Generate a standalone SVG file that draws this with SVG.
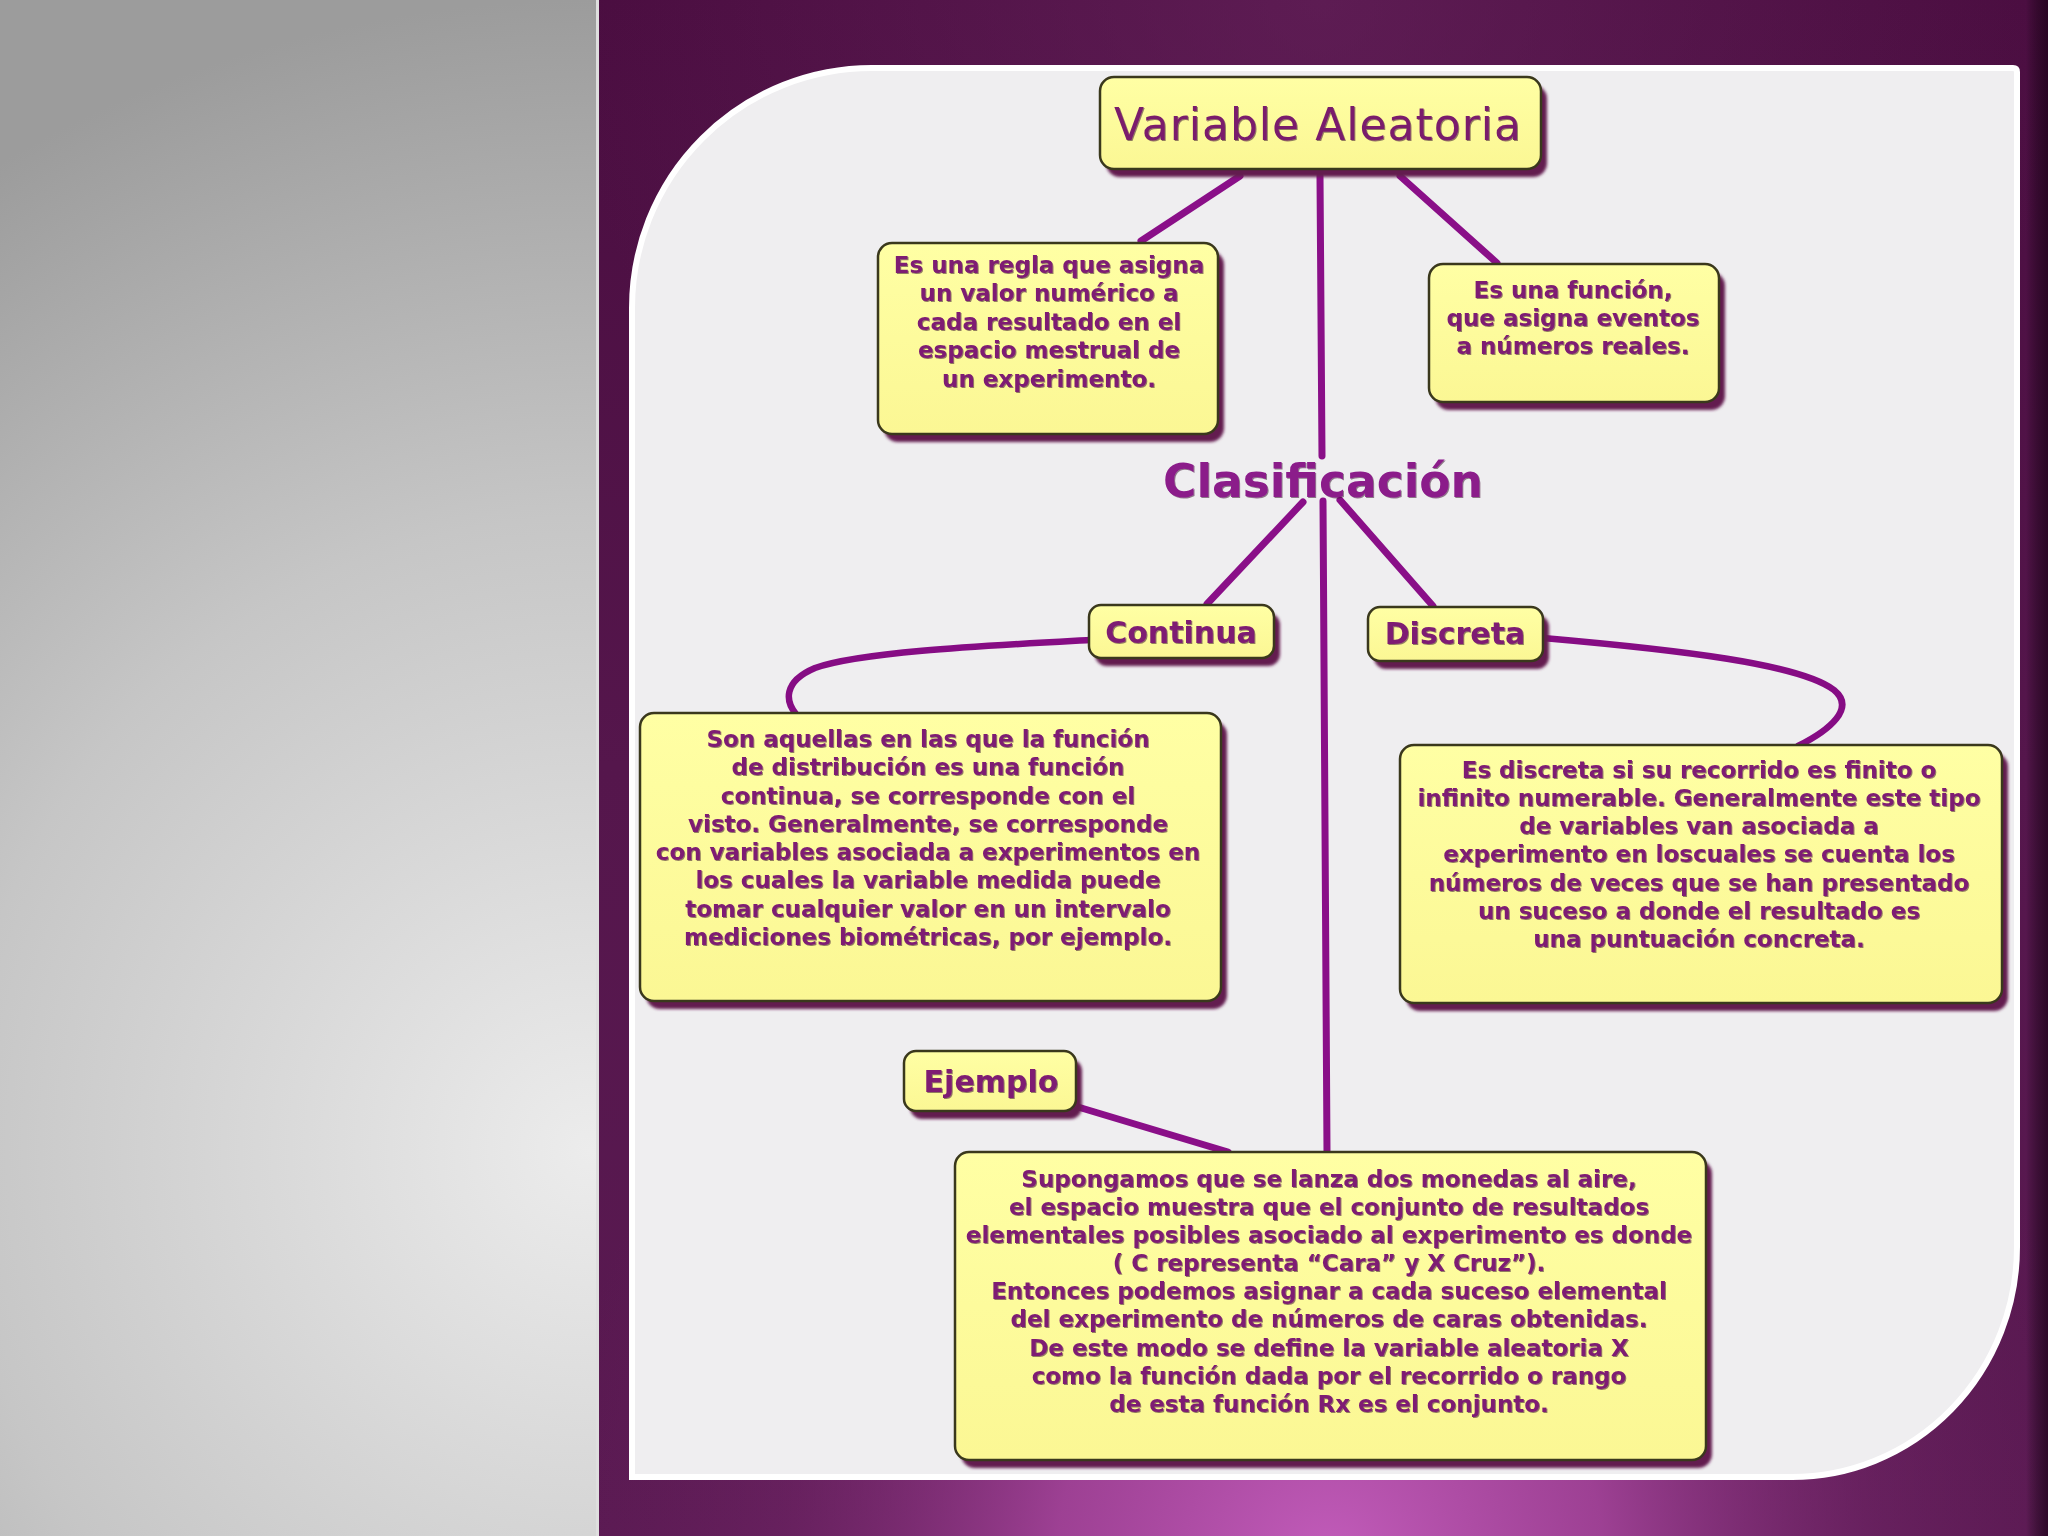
<svg xmlns="http://www.w3.org/2000/svg" width="2048" height="1536" viewBox="0 0 2048 1536">
<defs>
<radialGradient id="grayBg" gradientUnits="userSpaceOnUse" cx="590" cy="1150" r="1150">
<stop offset="0" stop-color="#ececec"/>
<stop offset="0.55" stop-color="#c6c6c6"/>
<stop offset="1" stop-color="#9c9c9c"/>
</radialGradient>
<linearGradient id="purpleBase" x1="0" y1="0" x2="0" y2="1">
<stop offset="0" stop-color="#4a0d40"/>
<stop offset="0.5" stop-color="#55164c"/>
<stop offset="1" stop-color="#5a1a52"/>
</linearGradient>
<radialGradient id="topGlow" gradientUnits="userSpaceOnUse" cx="1320" cy="0" r="750">
<stop offset="0" stop-color="#6a2660" stop-opacity="0.6"/>
<stop offset="1" stop-color="#6a2660" stop-opacity="0"/>
</radialGradient>
<radialGradient id="glow" gradientUnits="userSpaceOnUse" cx="1330" cy="1560" r="780">
<stop offset="0" stop-color="#c25cba" stop-opacity="1"/>
<stop offset="0.35" stop-color="#a9479f" stop-opacity="0.85"/>
<stop offset="0.7" stop-color="#7a2a70" stop-opacity="0.4"/>
<stop offset="1" stop-color="#6a2060" stop-opacity="0"/>
</radialGradient>
<linearGradient id="rightEdge" x1="0" y1="0" x2="1" y2="0">
<stop offset="0" stop-color="#000" stop-opacity="0"/>
<stop offset="1" stop-color="#1a0016" stop-opacity="0.7"/>
</linearGradient>
<linearGradient id="yel" x1="0" y1="0" x2="0" y2="1">
<stop offset="0" stop-color="#ffffa4"/>
<stop offset="1" stop-color="#fbf794"/>
</linearGradient>
<filter id="soft" x="-10%" y="-10%" width="130%" height="130%">
<feGaussianBlur stdDeviation="1.5"/>
</filter>
<filter id="tsh" x="-5%" y="-20%" width="110%" height="150%">
<feDropShadow dx="1" dy="1" stdDeviation="0.6" flood-color="#3a0833" flood-opacity="0.55"/>
</filter>
</defs>
<style>
.box{fill:url(#yel);stroke:#3a381c;stroke-width:2.5}
.shadow{fill:#641a50;filter:url(#soft)}
.conn{fill:none;stroke:#8a0f88;stroke-width:7;stroke-linecap:round}
.curve{fill:none;stroke:#860c84;stroke-width:6.5;stroke-linecap:round}
.t{font-family:"DejaVu Sans","Verdana",sans-serif;font-weight:bold;font-size:23px;fill:#7e1b73;text-anchor:middle;filter:url(#tsh)}
.tl{font-family:"DejaVu Sans","Verdana",sans-serif;font-weight:bold;font-size:30px;fill:#7e1b73;text-anchor:middle;filter:url(#tsh)}
.title{font-family:"DejaVu Sans","Verdana",sans-serif;font-weight:normal;font-size:44px;letter-spacing:1px;fill:#7a1d6c;text-anchor:middle;filter:url(#tsh)}
.clas{font-family:"DejaVu Sans","Verdana",sans-serif;font-weight:bold;font-size:45.5px;fill:#8b1a8a;text-anchor:middle;filter:url(#tsh)}
</style>

<!-- background -->
<rect x="0" y="0" width="598" height="1536" fill="url(#grayBg)"/>
<rect x="596" y="0" width="3" height="1536" fill="#dedede"/>
<rect x="599" y="0" width="1449" height="1536" fill="url(#purpleBase)"/>
<rect x="599" y="0" width="1449" height="700" fill="url(#topGlow)"/>
<rect x="599" y="700" width="1449" height="836" fill="url(#glow)"/>
<rect x="2026" y="0" width="22" height="1536" fill="url(#rightEdge)"/>

<!-- white panel -->
<path d="M632,1477 L632,308 A240 240 0 0 1 872,68 L2013,68 Q2017,68 2017,72 L2017,1247 A225 230 0 0 1 1792,1477 Z" fill="#efeef0" stroke="#ffffff" stroke-width="6"/>

<!-- connectors -->
<g id="connectors">
<line id="c-va-n2" class="conn" x1="1240" y1="176" x2="1141" y2="241"/>
<line id="c-va-n3" class="conn" x1="1400" y1="176" x2="1497" y2="263"/>
<line id="c-va-down1" class="conn" x1="1320" y1="176" x2="1322" y2="456"/>
<line id="c-va-down2" class="conn" x1="1323" y1="501" x2="1327" y2="1152"/>
<line id="c-clas-cont" class="conn" x1="1303" y1="502" x2="1207" y2="604"/>
<line id="c-clas-disc" class="conn" x1="1340" y1="500" x2="1433" y2="606"/>
<path id="c-cont-desc" class="curve" d="M1089,640 C980,646 860,652 815,668 C782,682 786,702 796,714"/>
<path id="c-disc-desc" class="curve" d="M1543,638 C1680,650 1800,664 1834,690 C1856,708 1830,730 1798,746"/>
<line id="c-ej-bottom" class="conn" x1="1078" y1="1107" x2="1228" y2="1152"/>
</g>

<!-- nodes -->
<g id="node-variable-aleatoria">
<rect class="shadow" x="1106" y="85" width="441" height="92" rx="14"/>
<rect class="box" x="1100" y="77" width="441" height="92" rx="14"/>
<text class="title" x="1318" y="140">Variable Aleatoria</text>
</g>

<g id="node-regla">
<rect class="shadow" x="884" y="251" width="340" height="191" rx="14"/>
<rect class="box" x="878" y="243" width="340" height="191" rx="14"/>
<text class="t" x="1049" y="273">Es una regla que asigna</text>
<text class="t" x="1049" y="301">un valor numérico a</text>
<text class="t" x="1049" y="330">cada resultado en el</text>
<text class="t" x="1049" y="358">espacio mestrual de</text>
<text class="t" x="1049" y="387">un experimento.</text>
</g>

<g id="node-funcion">
<rect class="shadow" x="1435" y="272" width="290" height="138" rx="14"/>
<rect class="box" x="1429" y="264" width="290" height="138" rx="14"/>
<text class="t" x="1573" y="298">Es una función,</text>
<text class="t" x="1573" y="326">que asigna eventos</text>
<text class="t" x="1573" y="354">a números reales.</text>
</g>

<g id="node-clasificacion">
<text class="clas" x="1323" y="497">Clasificación</text>
</g>

<g id="node-continua">
<rect class="shadow" x="1095" y="613" width="185" height="53" rx="12"/>
<rect class="box" x="1089" y="605" width="185" height="53" rx="12"/>
<text class="tl" x="1181" y="643">Continua</text>
</g>

<g id="node-discreta">
<rect class="shadow" x="1374" y="615" width="175" height="54" rx="12"/>
<rect class="box" x="1368" y="607" width="175" height="54" rx="12"/>
<text class="tl" x="1455" y="644">Discreta</text>
</g>

<g id="node-continua-desc">
<rect class="shadow" x="646" y="721" width="581" height="288" rx="14"/>
<rect class="box" x="640" y="713" width="581" height="288" rx="14"/>
<text class="t" x="928" y="747">Son aquellas en las que la función</text>
<text class="t" x="928" y="775">de distribución es una función</text>
<text class="t" x="928" y="804">continua, se corresponde con el</text>
<text class="t" x="928" y="832">visto. Generalmente, se corresponde</text>
<text class="t" x="928" y="860">con variables asociada a experimentos en</text>
<text class="t" x="928" y="888">los cuales la variable medida puede</text>
<text class="t" x="928" y="917">tomar cualquier valor en un intervalo</text>
<text class="t" x="928" y="945">mediciones biométricas, por ejemplo.</text>
</g>

<g id="node-discreta-desc">
<rect class="shadow" x="1406" y="753" width="602" height="258" rx="14"/>
<rect class="box" x="1400" y="745" width="602" height="258" rx="14"/>
<text class="t" x="1699" y="778">Es discreta si su recorrido es finito o</text>
<text class="t" x="1699" y="806">infinito numerable. Generalmente este tipo</text>
<text class="t" x="1699" y="834">de variables van asociada a</text>
<text class="t" x="1699" y="862">experimento en loscuales se cuenta los</text>
<text class="t" x="1699" y="891">números de veces que se han presentado</text>
<text class="t" x="1699" y="919">un suceso a donde el resultado es</text>
<text class="t" x="1699" y="947">una puntuación concreta.</text>
</g>

<g id="node-ejemplo">
<rect class="shadow" x="910" y="1059" width="172" height="60" rx="12"/>
<rect class="box" x="904" y="1051" width="172" height="60" rx="12"/>
<text class="tl" x="991" y="1092">Ejemplo</text>
</g>

<g id="node-ejemplo-desc">
<rect class="shadow" x="961" y="1160" width="751" height="308" rx="14"/>
<rect class="box" x="955" y="1152" width="751" height="308" rx="14"/>
<text class="t" x="1329" y="1187">Supongamos que se lanza dos monedas al aire,</text>
<text class="t" x="1329" y="1215">el espacio muestra que el conjunto de resultados</text>
<text class="t" x="1329" y="1243">elementales posibles asociado al experimento es donde</text>
<text class="t" x="1329" y="1271">( C representa “Cara” y X Cruz”).</text>
<text class="t" x="1329" y="1299">Entonces podemos asignar a cada suceso elemental</text>
<text class="t" x="1329" y="1327">del experimento de números de caras obtenidas.</text>
<text class="t" x="1329" y="1356">De este modo se define la variable aleatoria X</text>
<text class="t" x="1329" y="1384">como la función dada por el recorrido o rango</text>
<text class="t" x="1329" y="1412">de esta función Rx es el conjunto.</text>
</g>
</svg>
